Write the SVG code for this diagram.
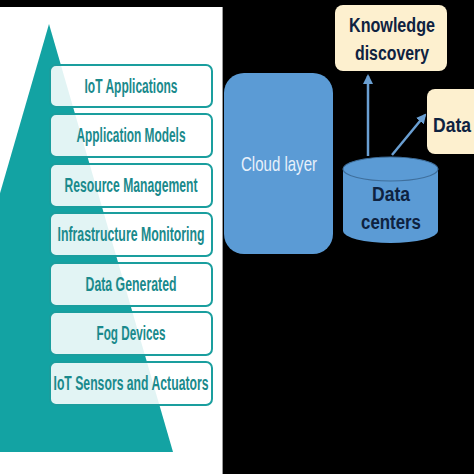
<svg xmlns="http://www.w3.org/2000/svg" width="474" height="474" viewBox="0 0 474 474">
<defs>
<style>
.layer rect{fill:#ffffff;fill-opacity:0.88;stroke:#1a9e9e;stroke-width:2}
.layer text{font-family:"Liberation Sans",Arial,sans-serif;font-size:20px;fill:#1a8a8c;text-anchor:middle;font-weight:bold}
.dark{font-family:"Liberation Sans",Arial,sans-serif;font-size:20px;fill:#0e2240;font-weight:bold}
.mid{text-anchor:middle}
.conn{stroke:#6a9fd2;stroke-width:2.5;fill:none}
</style>
<marker id="ah" viewBox="0 0 10 10" refX="8" refY="5" markerWidth="4" markerHeight="4" orient="auto">
<path d="M0,0 L10,5 L0,10 z" fill="#6a9fd2"/>
</marker>
</defs>
<rect x="0" y="0" width="474" height="474" fill="#000"/>
<rect x="0" y="7" width="222" height="467" fill="#ffffff"/>
<line x1="222.5" y1="7" x2="222.5" y2="474" stroke="#9a9a9a" stroke-width="1"/>
<polygon points="49,24 173,452 -75,452" fill="#13a3a3"/>

<g id="l1" class="layer"><rect x="50" y="65" width="162" height="42" rx="6"/><text x="131" y="93" textLength="93" lengthAdjust="spacingAndGlyphs">IoT Applications</text></g>
<g id="l2" class="layer"><rect x="50" y="114" width="162" height="43" rx="6"/><text x="131" y="142" textLength="109" lengthAdjust="spacingAndGlyphs">Application Models</text></g>
<g id="l3" class="layer"><rect x="50" y="164" width="162" height="43" rx="6"/><text x="131" y="192" textLength="133" lengthAdjust="spacingAndGlyphs">Resource Management</text></g>
<g id="l4" class="layer"><rect x="50" y="213" width="162" height="43" rx="6"/><text x="131" y="241" textLength="147" lengthAdjust="spacingAndGlyphs">Infrastructure Monitoring</text></g>
<g id="l5" class="layer"><rect x="50" y="263" width="162" height="43" rx="6"/><text x="131" y="291" textLength="91" lengthAdjust="spacingAndGlyphs">Data Generated</text></g>
<g id="l6" class="layer"><rect x="50" y="312" width="162" height="43" rx="6"/><text x="131" y="340" textLength="69" lengthAdjust="spacingAndGlyphs">Fog Devices</text></g>
<g id="l7" class="layer"><rect x="50" y="362" width="162" height="43" rx="6"/><text x="131" y="390" textLength="155" lengthAdjust="spacingAndGlyphs">IoT Sensors and Actuators</text></g>

<g id="cloud">
<rect x="224" y="73" width="109" height="181" rx="20" fill="#5b9bd5"/>
<text x="279" y="171" font-family="'Liberation Sans',Arial,sans-serif" font-size="21" fill="#e8f1fb" text-anchor="middle" textLength="76" lengthAdjust="spacingAndGlyphs">Cloud layer</text>
</g>

<g id="datacenters">
<path d="M343,169 L343,231 A47.5,12 0 0 0 438,231 L438,169 Z" fill="#5b9bd5"/>
<ellipse cx="390.5" cy="169" rx="47.5" ry="12" fill="#5b9bd5" stroke="#3f6f9c" stroke-width="1.2"/>
<text class="dark mid" x="391" y="201" textLength="38" lengthAdjust="spacingAndGlyphs">Data</text>
<text class="dark mid" x="391" y="229" textLength="60" lengthAdjust="spacingAndGlyphs">centers</text>
</g>

<g id="knowledge">
<rect x="335" y="5" width="112" height="66" rx="8" fill="#fdf0cf"/>
<text class="dark mid" x="392" y="32" textLength="86" lengthAdjust="spacingAndGlyphs">Knowledge</text>
<text class="dark mid" x="392" y="60" textLength="74" lengthAdjust="spacingAndGlyphs">discovery</text>
</g>

<g id="data">
<rect x="427" y="89" width="70" height="65" rx="8" fill="#fdf0cf"/>
<text class="dark" x="433" y="132" textLength="38" lengthAdjust="spacingAndGlyphs">Data</text>
</g>

<g id="connectors">
<line class="conn" x1="368" y1="156" x2="368" y2="76" marker-end="url(#ah)"/>
<line class="conn" x1="392" y1="155" x2="425" y2="115" marker-end="url(#ah)"/>
</g>
</svg>
